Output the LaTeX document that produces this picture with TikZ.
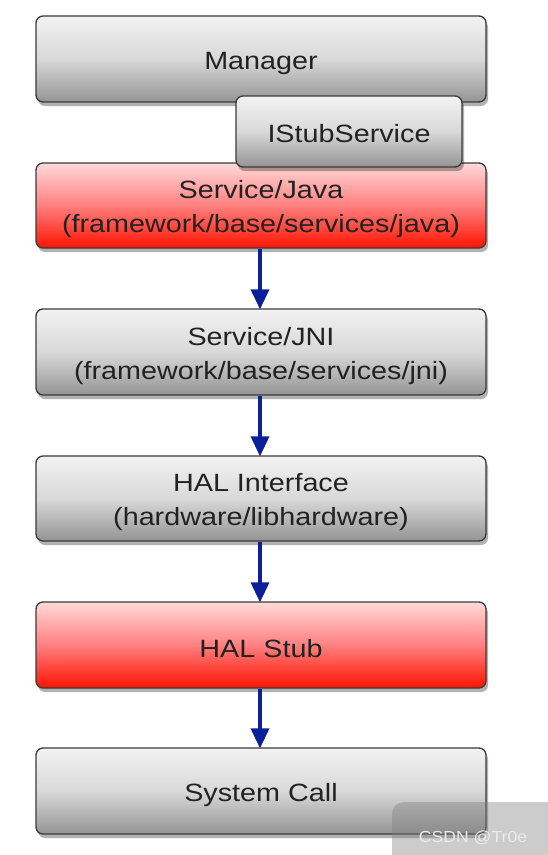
\documentclass[tikz,border=0pt]{standalone}
\usepackage{fontspec}
\setmainfont{Liberation Sans}
\usetikzlibrary{shadows,arrows.meta}
\definecolor{arrowblue}{HTML}{0B1F9A}
\definecolor{boxborder}{HTML}{3A3A3A}
\definecolor{txt}{HTML}{222222}
\newcommand{\wide}[1]{\scalebox{1.15}[1]{#1}}
\tikzset{
  layer/.style={draw=boxborder, line width=1.3pt, rounded corners=7pt,
    minimum width=450pt, inner sep=0pt,
    drop shadow={shadow xshift=2pt, shadow yshift=-4pt, opacity=0.3, fill=black}},
  greybox/.style={layer, top color=white!95!black, bottom color=black!42, middle color=black!15},
  redbox/.style={layer, top color=red!15!white, bottom color=red!85!orange, middle color=red!50!white},
  boxtext/.style={align=center, font=\fontsize{25}{34}\selectfont, text=txt, yshift=-4pt},
  flow/.style={arrowblue, line width=3.5pt, -{Triangle[length=20pt,width=18pt]}, shorten >=-1pt}
}
\begin{document}
\begin{tikzpicture}[x=1pt,y=-1pt]
\useasboundingbox (0,0) rectangle (547,855);
\node[greybox, minimum height=86pt, label={[boxtext]center:\wide{Manager}}] (mgr) at (261,59) {};
\node[redbox, minimum height=85pt, label={[boxtext]center:\wide{Service/Java}\\\wide{(framework/base/services/java)}}] (java) at (261,205.5) {};
\node[greybox, minimum width=226pt, minimum height=71pt, label={[boxtext, yshift=2pt]center:\wide{IStubService}}] (istub) at (349,131.5) {};
\node[greybox, minimum height=86pt, label={[boxtext]center:\wide{Service/JNI}\\\wide{(framework/base/services/jni)}}] (jni) at (261,352) {};
\node[greybox, minimum height=85pt, label={[boxtext]center:\wide{HAL Interface}\\\wide{(hardware/libhardware)}}] (hali) at (261,498.5) {};
\node[redbox, minimum height=86pt, label={[boxtext]center:\wide{HAL Stub}}] (stub) at (261,645) {};
\node[greybox, minimum height=86pt, label={[boxtext]center:\wide{System Call}}] (sys) at (261,791) {};
\draw[flow] (java.south -| 260,0) -- (jni.north -| 260,0);
\draw[flow] (jni.south -| 260,0) -- (hali.north -| 260,0);
\draw[flow] (hali.south -| 260,0) -- (stub.north -| 260,0);
\draw[flow] (stub.south -| 260,0) -- (sys.north -| 260,0);
\fill[black!50, opacity=0.4, rounded corners=12pt] (392,802) rectangle (560,870);
\node[text=white!92!black, font=\fontsize{16}{18}\selectfont, inner sep=0pt] (wm) at (473,838) {\scalebox{1.1}[1]{CSDN @Tr0e}};
\end{tikzpicture}
\end{document}
